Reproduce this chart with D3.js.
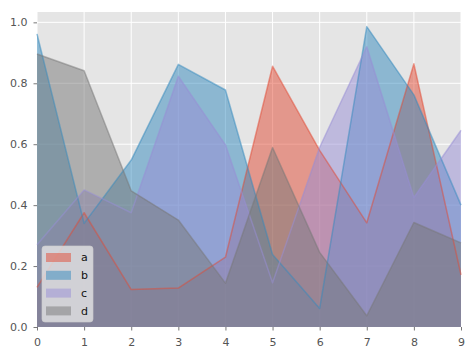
<!DOCTYPE html>
<html>
<head>
<meta charset="utf-8">
<script src="https://cdn.jsdelivr.net/npm/d3@7"></script>
<style>
  html, body { margin: 0; padding: 0; background: #ffffff; }
  svg { display: block; }
  text { font-family: "DejaVu Sans", sans-serif; }
</style>
</head>
<body>
<svg id="chart" width="474" height="357"></svg>
<script>
// ---- data ----
const xValues = [0, 1, 2, 3, 4, 5, 6, 7, 8, 9];
const seriesNames = ["a", "b", "c", "d"];
const seriesA = [0.13, 0.375, 0.123, 0.128, 0.229, 0.856, 0.58, 0.342, 0.864, 0.171];
const seriesB = [0.962, 0.34, 0.548, 0.862, 0.778, 0.238, 0.061, 0.986, 0.762, 0.40];
const seriesC = [0.27, 0.45, 0.375, 0.823, 0.598, 0.145, 0.59, 0.92, 0.425, 0.646];
const seriesD = [0.896, 0.841, 0.447, 0.351, 0.144, 0.589, 0.245, 0.037, 0.343, 0.276];
const seriesColors = ["#E24A33", "#348ABD", "#988ED5", "#777777"];
const yTicks = [0.0, 0.2, 0.4, 0.6, 0.8, 1.0];
const xTicks = [0, 1, 2, 3, 4, 5, 6, 7, 8, 9];

const allSeries = [seriesA, seriesB, seriesC, seriesD];

// ---- layout ----
const svg = d3.select("#chart");
const pLeft = 37, pRight = 461, pTop = 12, pBottom = 327;

const x = d3.scaleLinear().domain([0, 9]).range([pLeft, pRight]);
const y = d3.scaleLinear().domain([0, 1.034]).range([pBottom, pTop]);

// background
svg.append("rect").attr("x", pLeft).attr("y", pTop)
  .attr("width", pRight - pLeft).attr("height", pBottom - pTop)
  .attr("fill", "#E5E5E5");

// grid
const grid = svg.append("g");
grid.selectAll("line.gx").data(xTicks).enter().append("line")
  .attr("x1", d => x(d)).attr("x2", d => x(d))
  .attr("y1", pTop).attr("y2", pBottom)
  .attr("stroke", "#ffffff").attr("stroke-width", 1);
grid.selectAll("line.gy").data(yTicks).enter().append("line")
  .attr("x1", pLeft).attr("x2", pRight)
  .attr("y1", d => y(d)).attr("y2", d => y(d))
  .attr("stroke", "#ffffff").attr("stroke-width", 1);

// areas
const area = d3.area().x((d, i) => x(xValues[i])).y0(y(0)).y1(d => y(d));
const line = d3.line().x((d, i) => x(xValues[i])).y(d => y(d));

const plot = svg.append("g");
allSeries.forEach((s, k) => {
  plot.append("path").datum(s).attr("d", area)
    .attr("fill", seriesColors[k]).attr("fill-opacity", 0.5);
});
allSeries.forEach((s, k) => {
  plot.append("path").datum(s).attr("d", line)
    .attr("fill", "none").attr("stroke", seriesColors[k])
    .attr("stroke-opacity", 0.5).attr("stroke-width", 1.5)
    .attr("stroke-linejoin", "round");
});

// axes
const xAxis = d3.axisBottom(x).tickValues(xTicks).tickFormat(d3.format("d"))
  .tickSize(3.5).tickPadding(8);
const yAxis = d3.axisLeft(y).tickValues(yTicks).tickFormat(d3.format(".1f"))
  .tickSize(3.5).tickPadding(6);

const gx = svg.append("g").attr("transform", `translate(0,${pBottom})`).call(xAxis);
const gy = svg.append("g").attr("transform", `translate(${pLeft},0)`).call(yAxis);
[gx, gy].forEach(g => {
  g.select(".domain").remove();
  g.selectAll(".tick line").attr("stroke", "#555555").attr("stroke-width", 0.8);
  g.selectAll(".tick text").attr("fill", "#555555")
    .style("font-family", "DejaVu Sans, sans-serif").style("font-size", "11px");
});

// legend
const lg = svg.append("g");
lg.append("rect").attr("x", 42).attr("y", 246).attr("width", 51).attr("height", 76)
  .attr("rx", 3).attr("ry", 3)
  .attr("fill", "#E5E5E5").attr("fill-opacity", 0.8)
  .attr("stroke", "#CCCCCC").attr("stroke-opacity", 0.8).attr("stroke-width", 0.8);
seriesNames.forEach((name, k) => {
  const cy = 257.5 + k * 17.8;
  lg.append("rect").attr("x", 46).attr("y", cy - 4.5).attr("width", 25).attr("height", 9)
    .attr("fill", seriesColors[k]).attr("fill-opacity", 0.5);
  lg.append("text").attr("x", 81).attr("y", cy).attr("dy", "0.35em")
    .attr("fill", "#111111").style("font-size", "11px").text(name);
});
</script>
</body>
</html>
